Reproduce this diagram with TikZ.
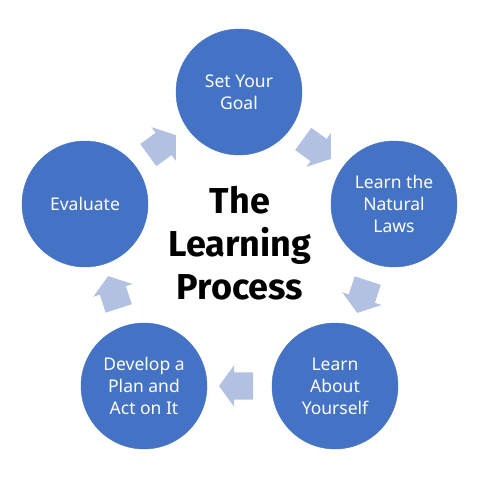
\documentclass[tikz,border=0pt]{standalone}
\usepackage{fontspec}
\setmainfont{Noto Sans}
\newfontfamily\titlefont{Fira Sans}
\usetikzlibrary{shapes.arrows}
\definecolor{circblue}{RGB}{68,114,196}
\definecolor{arrowblue}{RGB}{178,192,226}
\tikzset{
  stage/.style={circle, fill=circblue, draw=circblue, minimum size=126pt, inner sep=0pt,
    text=white, align=center, font=\fontsize{17.5}{22}\selectfont},
  flowarrow/.style={single arrow, fill=arrowblue, draw=none, inner sep=0pt,
    minimum height=34pt, minimum width=41pt, single arrow head extend=7pt,
    single arrow tip angle=108},
  title/.style={align=center, font=\titlefont\bfseries\fontsize{36}{43}\selectfont, text=black}
}
\newcommand{\shaft}{\rule{0pt}{27pt}}
\begin{document}
\begin{tikzpicture}[x=1pt,y=-1pt]
\useasboundingbox (0,0) rectangle (480,480);
\node[stage] (goal) at (239,92) {Set Your\\Goal};
\node[stage] (laws) at (394,204) {Learn the\\Natural\\Laws};
\node[stage] (self) at (335,386) {Learn\\About\\Yourself};
\node[stage] (plan) at (144,386) {Develop a\\Plan and\\Act on It};
\node[stage] (eval) at (85,204) {Evaluate};
\node[title] (ttl) at (240,243) {The\\Learning\\Process};
\node[flowarrow, rotate=-36] (a1) at (313,146) {\shaft};
\node[flowarrow, rotate=-108] (a2) at (364,292) {\shaft};
\node[flowarrow, rotate=180] (a3) at (241,386) {\shaft};
\node[flowarrow, rotate=108] (a4) at (115,297) {\shaft};
\node[flowarrow, rotate=36] (a5) at (158,148) {\shaft};
\end{tikzpicture}
\end{document}
